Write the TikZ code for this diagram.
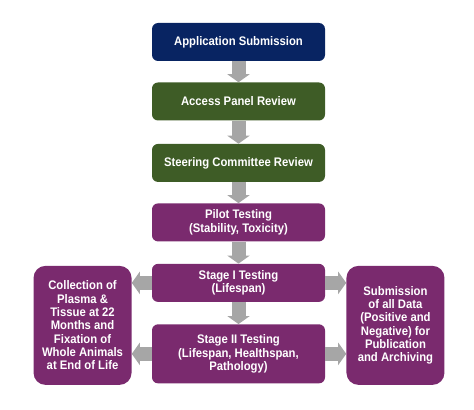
\documentclass[tikz,border=0pt]{standalone}
\usepackage{fontspec}
\setmainfont{Liberation Sans}[FakeStretch=0.91]
\usepackage{xcolor}
\usepackage{tikz}
\usetikzlibrary{arrows.meta,positioning}
\definecolor{navy}{RGB}{8,36,98}
\definecolor{olive}{RGB}{62,92,38}
\definecolor{plum}{RGB}{122,42,110}
\definecolor{arrowgray}{RGB}{166,166,166}
\tikzset{
  >={Triangle[length=2.4mm, width=6.6mm]},
  flow/.style={->, draw=arrowgray, line width=4.2mm},
  box/.style={rounded corners=1.8mm, minimum width=51.9mm, minimum height=11.4mm, align=center,
    text=white, font=\fontsize{10.6}{11.4}\selectfont\bfseries, inner sep=1mm},
  submit/.style={box, fill=navy},
  review/.style={box, fill=olive},
  test/.style={box, fill=plum},
  side/.style={box, fill=plum, rounded corners=3.6mm, minimum width=29.4mm, minimum height=35.7mm},
}

\begin{document}
\begin{tikzpicture}[node distance=6.3mm and 6mm]
  \useasboundingbox (0,0) rectangle (142.2mm,-123mm);
  \node[submit] (app) at (71.55mm,-12.6mm) {Application Submission};
  \node[review, below=6.3mm of app] (panel) {Access Panel Review};
  \node[review, below=6.9mm of panel] (steer) {Steering Committee Review};
  \node[test, below=6.3mm of steer] (pilot) {Pilot Testing\\(Stability, Toxicity)};
  \node[test, below=6.6mm of pilot] (stage1) {Stage I Testing\\(Lifespan)};
  \node[test, below=6.6mm of stage1, minimum height=17.7mm] (stage2) {Stage II Testing\\(Lifespan, Healthspan,\\Pathology)};
  \node[side, below left=0.6mm and 6mm of stage1.north west] (coll)
    {Collection of\\Plasma \&\\Tissue at 22\\Months and\\Fixation of\\Whole Animals\\at End of Life};
  \node[side, below right=0.6mm and 6.3mm of stage1.north east] (data)
    {Submission\\of all Data\\(Positive and\\Negative) for\\Publication\\and Archiving};
  \draw[flow] (app) -- (panel);
  \draw[flow] (panel) -- (steer);
  \draw[flow] (steer) -- (pilot);
  \draw[flow] (pilot) -- (stage1);
  \draw[flow] (stage1) -- (stage2);
  \draw[flow] (stage1.west) -- (stage1.west -| coll.east);
  \draw[flow] (stage2.west) -- (stage2.west -| coll.east);
  \draw[flow] (stage1.east) -- (stage1.east -| data.west);
  \draw[flow] (stage2.east) -- (stage2.east -| data.west);
\end{tikzpicture}
\end{document}
